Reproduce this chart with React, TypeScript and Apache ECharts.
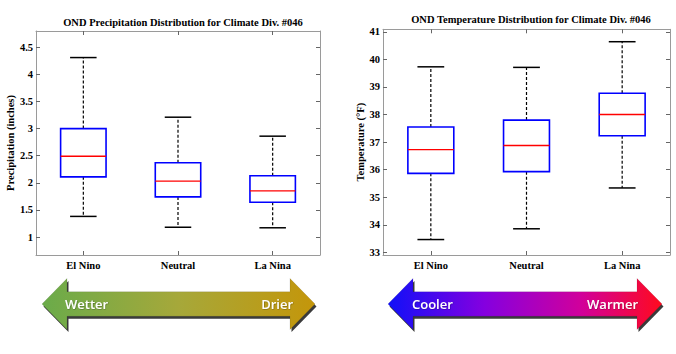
import React, { useEffect, useRef } from "react";
import * as echarts from "echarts";

const categories = ["El Nino", "Neutral", "La Nina"];
// [low whisker, Q1, median, Q3, high whisker]
const precipStats = [
  [1.38, 2.11, 2.49, 3.0, 4.31],
  [1.18, 1.74, 2.03, 2.37, 3.21],
  [1.17, 1.64, 1.85, 2.13, 2.86],
];
const tempStats = [
  [33.47, 35.87, 36.73, 37.55, 39.73],
  [33.86, 35.93, 36.88, 37.8, 39.71],
  [35.34, 37.23, 38.0, 38.77, 40.64],
];
const precipTicks = [1, 1.5, 2, 2.5, 3, 3.5, 4, 4.5];
const tempTicks = [33, 34, 35, 36, 37, 38, 39, 40, 41];
const precipTitle = "OND Precipitation Distribution for Climate Div. #046";
const tempTitle = "OND Temperature Distribution for Climate Div. #046";
const precipAxisName = "Precipitation (inches)";
const tempAxisName = "Temperature (°F)";
const arrowLabels = ["Wetter", "Drier", "Cooler", "Warmer"];

const SERIF = "'Liberation Serif', 'Times New Roman', serif";
const FRAME = "#9a9a9a";
const FS = 10.5;

function renderBox(params: any, api: any) {
  const x = api.value(0);
  const low = api.coord([x, api.value(1)]);
  const q1 = api.coord([x, api.value(2)]);
  const med = api.coord([x, api.value(3)]);
  const q3 = api.coord([x, api.value(4)]);
  const high = api.coord([x, api.value(5)]);
  const band = api.size([1, 0])[0];
  const cx = low[0];
  const bw = band * 0.24;
  const cw = band * 0.14;
  const dash = { stroke: "#000", lineWidth: 1.2, lineDash: [3, 2] };
  const solid = { stroke: "#000", lineWidth: 1.5 };
  return {
    type: "group",
    children: [
      { type: "line", shape: { x1: cx, y1: q3[1], x2: cx, y2: high[1] }, style: dash },
      { type: "line", shape: { x1: cx, y1: q1[1], x2: cx, y2: low[1] }, style: dash },
      { type: "line", shape: { x1: cx - cw, y1: high[1], x2: cx + cw, y2: high[1] }, style: solid },
      { type: "line", shape: { x1: cx - cw, y1: low[1], x2: cx + cw, y2: low[1] }, style: solid },
      {
        type: "rect",
        shape: { x: cx - bw, y: q3[1], width: bw * 2, height: q1[1] - q3[1] },
        style: { fill: "#fff", stroke: "#0000ff", lineWidth: 1.6 },
      },
      {
        type: "line",
        shape: { x1: cx - bw, y1: med[1], x2: cx + bw, y2: med[1] },
        style: { stroke: "#ff0000", lineWidth: 1.4 },
      },
    ],
  };
}

function arrowPoints(x0: number, x1: number, yc: number) {
  const head = 25;
  const shaftHalf = 12.3;
  const headHalf = 25.5;
  return [
    [x0, yc],
    [x0 + head, yc - headHalf],
    [x0 + head, yc - shaftHalf],
    [x1 - head, yc - shaftHalf],
    [x1 - head, yc - headHalf],
    [x1, yc],
    [x1 - head, yc + headHalf],
    [x1 - head, yc + shaftHalf],
    [x0 + head, yc + shaftHalf],
    [x0 + head, yc + headHalf],
  ];
}

function arrowGraphic(x0: number, x1: number, yc: number, stops: any[]) {
  const pts = arrowPoints(x0, x1, yc);
  const shadowPts = pts.map((p) => [p[0] + 1.5, p[1] + 2.5]);
  return [
    {
      type: "polygon",
      shape: { points: shadowPts },
      style: { fill: "#262626", opacity: 0.9 },
      z: 1,
    },
    {
      type: "polygon",
      shape: { points: pts },
      style: {
        fill: { type: "linear", x: 0, y: 0, x2: 1, y2: 0, colorStops: stops },
        stroke: "rgba(0,0,0,0.2)",
        lineWidth: 0.5,
      },
      z: 2,
    },
  ];
}

function arrowText(text: string, x: number, y: number, align: string) {
  return {
    type: "text",
    x,
    y,
    z: 3,
    style: {
      text,
      fill: "#fff",
      font: "600 13px 'Open Sans', sans-serif",
      textAlign: align,
      textVerticalAlign: "middle",
      textShadowColor: "rgba(0,0,0,0.4)",
      textShadowBlur: 1,
      textShadowOffsetX: 0.5,
      textShadowOffsetY: 0.5,
    },
  };
}

function xAxisPair(gridIndex: number) {
  const base = {
    type: "category",
    data: categories,
    gridIndex,
    boundaryGap: true,
    axisLine: { show: true, lineStyle: { color: FRAME, width: 1 } },
    axisTick: { show: true, inside: true, length: 4, alignWithLabel: true, lineStyle: { color: "#666" } },
    splitLine: { show: false },
  };
  return [
    {
      ...base,
      position: "bottom",
      axisLabel: { fontFamily: SERIF, fontWeight: "bold", fontSize: FS, color: "#000", margin: 5 },
    },
    { ...base, position: "top", axisLabel: { show: false } },
  ];
}

function yAxisPair(gridIndex: number, min: number, max: number, ticks: number[], name: string, nameGap: number) {
  const base = {
    type: "value",
    gridIndex,
    min,
    max,
    axisLine: { show: true, lineStyle: { color: FRAME, width: 1 } },
    axisTick: { show: true, inside: true, length: 4, customValues: ticks, lineStyle: { color: "#666" } },
    splitLine: { show: false },
  };
  return [
    {
      ...base,
      position: "left",
      name,
      nameLocation: "middle",
      nameRotate: 90,
      nameGap,
      nameTextStyle: { fontFamily: SERIF, fontWeight: "bold", fontSize: FS, color: "#000" },
      axisLabel: {
        customValues: ticks,
        fontFamily: SERIF,
        fontWeight: "bold",
        fontSize: FS,
        color: "#000",
        margin: 3,
      },
    },
    { ...base, position: "right", axisLabel: { show: false } },
  ];
}

export default function App() {
  const ref = useRef<HTMLDivElement>(null);
  useEffect(() => {
    if (!ref.current) return;
    const chart = echarts.init(ref.current, null, { renderer: "svg" });
    const precipData = precipStats.map((s, i) => [i, ...s]);
    const tempData = tempStats.map((s, i) => [i, ...s]);
    const option: any = {
      animation: false,
      backgroundColor: "#fff",
      title: [
        {
          text: precipTitle,
          left: 178,
          top: 12,
          textAlign: "center",
          textStyle: { fontFamily: SERIF, fontWeight: "bold", fontSize: FS, color: "#000" },
        },
        {
          text: tempTitle,
          left: 526,
          top: 9,
          textAlign: "center",
          textStyle: { fontFamily: SERIF, fontWeight: "bold", fontSize: FS, color: "#000" },
        },
      ],
      grid: [
        { left: 36, top: 31, width: 284, height: 224 },
        { left: 383, top: 29.3, width: 287, height: 225.7 },
      ],
      xAxis: [...xAxisPair(0), ...xAxisPair(1)],
      yAxis: [
        ...yAxisPair(0, 0.668, 4.8, precipTicks, precipAxisName, 17),
        ...yAxisPair(1, 32.91, 41.09, tempTicks, tempAxisName, 15),
      ],
      series: [
        {
          type: "custom",
          xAxisIndex: 0,
          yAxisIndex: 0,
          renderItem: renderBox,
          encode: { x: 0, y: [1, 2, 3, 4, 5] },
          data: precipData,
          z: 5,
        },
        {
          type: "custom",
          xAxisIndex: 2,
          yAxisIndex: 2,
          renderItem: renderBox,
          encode: { x: 0, y: [1, 2, 3, 4, 5] },
          data: tempData,
          z: 5,
        },
      ],
      graphic: [
        ...arrowGraphic(42, 315, 304, [
          { offset: 0, color: "#6aab4a" },
          { offset: 0.5, color: "#a6a83a" },
          { offset: 1, color: "#c4960a" },
        ]),
        ...arrowGraphic(388, 662, 304, [
          { offset: 0, color: "#1010f8" },
          { offset: 0.35, color: "#8400e0" },
          { offset: 0.7, color: "#d0009c" },
          { offset: 1, color: "#ff0a1e" },
        ]),
        arrowText(arrowLabels[0], 65, 304, "left"),
        arrowText(arrowLabels[1], 293, 304, "right"),
        arrowText(arrowLabels[2], 412, 304, "left"),
        arrowText(arrowLabels[3], 638, 304, "right"),
      ],
    };
    chart.setOption(option);
    return () => chart.dispose();
  }, []);
  return (
    <div
      ref={ref}
      style={{ position: "absolute", left: 0, top: 0, width: 676, height: 354 }}
    />
  );
}
